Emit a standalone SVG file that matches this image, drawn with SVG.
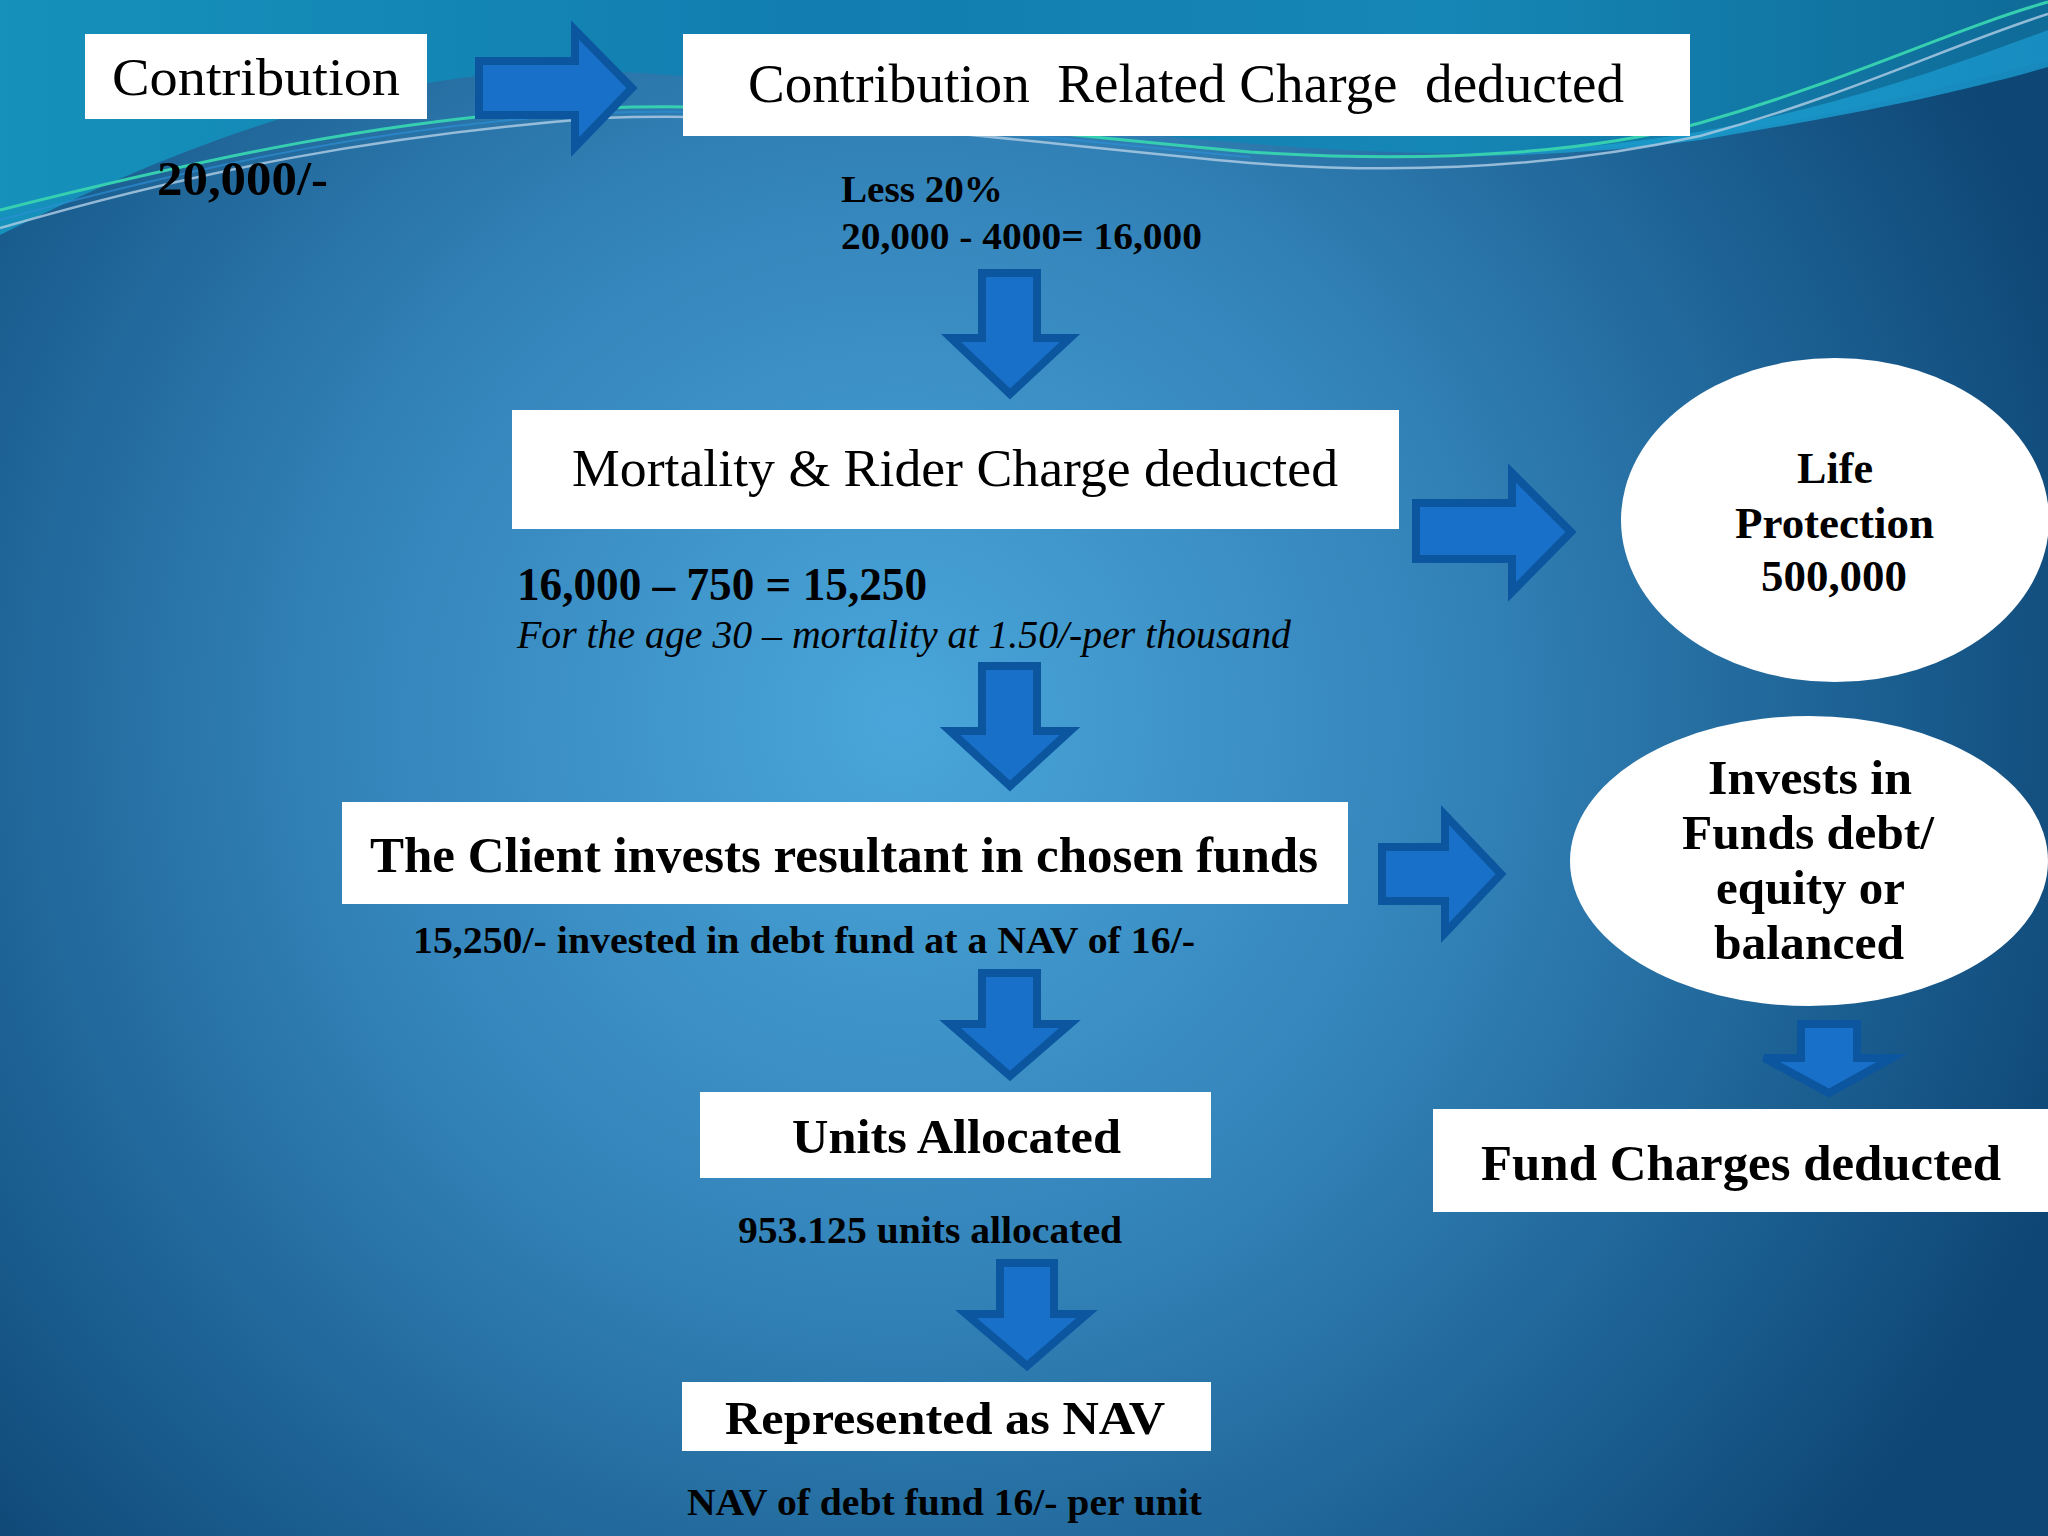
<svg xmlns="http://www.w3.org/2000/svg" width="2048" height="1536" viewBox="0 0 2048 1536">
<defs>
<radialGradient id="bg" cx="900" cy="720" r="1250" gradientUnits="userSpaceOnUse">
<stop offset="0" stop-color="#4aa6da"/>
<stop offset="0.45" stop-color="#3383b9"/>
<stop offset="0.8" stop-color="#1a5d8f"/>
<stop offset="1" stop-color="#0e4675"/>
</radialGradient>
<linearGradient id="teal" x1="0" y1="0" x2="2048" y2="0" gradientUnits="userSpaceOnUse">
<stop offset="0" stop-color="#1591bb"/>
<stop offset="0.4" stop-color="#127db0"/>
<stop offset="0.7" stop-color="#1587b6"/>
<stop offset="1" stop-color="#0f6b98"/>
</linearGradient>
<linearGradient id="cyanband" x1="1200" y1="0" x2="2048" y2="0" gradientUnits="userSpaceOnUse">
<stop offset="0" stop-color="#1aa0cc" stop-opacity="0.2"/>
<stop offset="0.5" stop-color="#1a9ccc" stop-opacity="0.9"/>
<stop offset="1" stop-color="#1890c4" stop-opacity="0.9"/>
</linearGradient>
<style>
.box { fill:#ffffff; }
.ell { fill:#ffffff; }
.arr { fill:#1870c8; stroke:#0c56a0; stroke-width:8; stroke-linejoin:miter; }
.t { font-family:"Liberation Serif", "Times New Roman", serif; fill:#000000; }
.reg { font-weight:normal; }
.bold { font-weight:bold; }
.ital { font-style:italic; }
.mid { text-anchor:middle; }
</style>
</defs>

<!-- background -->
<rect x="0" y="0" width="2048" height="1536" fill="url(#bg)"/>
<path d="M0,0 H2048 V60 C1900,100 1750,135 1600,148 C1450,160 1300,150 1100,130 C900,110 700,62 520,72 C330,85 150,160 0,235 Z" fill="url(#teal)"/>
<path d="M1200,150 C1450,165 1650,150 1800,110 C1900,85 1980,55 2048,30 V67 C1950,95 1850,115 1700,140 C1550,160 1400,160 1200,150 Z" fill="url(#cyanband)"/>
<path d="M0,210 C200,160 400,115 600,108 C800,100 1000,130 1250,152 C1450,165 1600,150 1700,123 C1850,80 1950,30 2048,2" fill="none" stroke="#36d0b0" stroke-width="3"/>
<path d="M0,228 C200,170 380,135 600,118 C800,110 1000,140 1250,163 C1450,178 1600,158 1700,136 C1850,95 1950,45 2048,14" fill="none" stroke="#a9c9e2" stroke-width="2.5" stroke-opacity="0.85"/>
<path d="M0,220 C200,165 390,125 600,113 C800,105 1000,135 1250,157" fill="none" stroke="#2c8fd4" stroke-width="2" stroke-opacity="0.7"/>

<!-- connectors -->
<g id="connectors">
<path class="arr" d="M479,61 H575 V30 L632,88 L575,147 V115 H479 Z"/>
<path class="arr" d="M982,273 H1037 V338 H1070 L1010,394 L951,338 H982 Z"/>
<path class="arr" d="M1416,503 H1512 V473 L1571,532 L1512,592 V559 H1416 Z"/>
<path class="arr" d="M982,666 H1037 V731 H1070 L1010,786 L950,731 H982 Z"/>
<path class="arr" d="M1382,847 H1445 V815 L1501,874 L1445,933 V901 H1382 Z"/>
<path class="arr" d="M982,973 H1037 V1024 H1070 L1010,1076 L950,1024 H982 Z"/>
<path class="arr" d="M1000,1263 H1054 V1314 H1087 L1027,1366 L966,1314 H1000 Z"/>
<path class="arr" d="M1801,1024 H1857 V1058 H1892 L1829,1093 L1764,1058 H1801 Z"/>
</g>

<!-- nodes -->
<g id="contribution">
<rect class="box" x="85" y="34" width="342" height="85"/>
<text class="t reg" x="112" y="95" font-size="53" textLength="288" lengthAdjust="spacingAndGlyphs">Contribution</text>
</g>
<g id="contribution-amount">
<text class="t bold" x="157" y="195" font-size="48" textLength="171" lengthAdjust="spacingAndGlyphs">20,000/-</text>
</g>
<g id="related-charge">
<rect class="box" x="683" y="34" width="1007" height="102"/>
<text class="t reg" x="748" y="102" font-size="54" textLength="876" lengthAdjust="spacingAndGlyphs" xml:space="preserve">Contribution  Related Charge  deducted</text>
</g>
<g id="related-charge-calc">
<text class="t bold" x="841" y="202" font-size="38" textLength="162" lengthAdjust="spacingAndGlyphs">Less 20%</text>
<text class="t bold" x="841" y="249" font-size="38" textLength="361" lengthAdjust="spacingAndGlyphs">20,000 - 4000= 16,000</text>
</g>
<g id="mortality">
<rect class="box" x="512" y="410" width="887" height="119"/>
<text class="t reg" x="572" y="486" font-size="52" textLength="766" lengthAdjust="spacingAndGlyphs">Mortality &amp; Rider Charge deducted</text>
</g>
<g id="mortality-calc">
<text class="t bold" x="517" y="600" font-size="46" textLength="410" lengthAdjust="spacingAndGlyphs">16,000 – 750 = 15,250</text>
<text class="t ital" x="517" y="648" font-size="40" textLength="774" lengthAdjust="spacingAndGlyphs">For the age 30 – mortality at 1.50/-per thousand</text>
</g>
<g id="life-protection">
<ellipse class="ell" cx="1835" cy="520" rx="214" ry="162"/>
<text class="t bold" x="1797" y="483" font-size="44" textLength="76" lengthAdjust="spacingAndGlyphs">Life</text>
<text class="t bold" x="1735" y="538" font-size="44" textLength="199" lengthAdjust="spacingAndGlyphs">Protection</text>
<text class="t bold" x="1761" y="591" font-size="44" textLength="146" lengthAdjust="spacingAndGlyphs">500,000</text>
</g>
<g id="client-invests">
<rect class="box" x="342" y="802" width="1006" height="102"/>
<text class="t bold" x="370" y="872" font-size="51" textLength="948" lengthAdjust="spacingAndGlyphs">The Client invests resultant in chosen funds</text>
</g>
<g id="client-invests-calc">
<text class="t bold" x="413" y="953" font-size="38" textLength="782" lengthAdjust="spacingAndGlyphs">15,250/- invested in debt fund at a NAV of 16/-</text>
</g>
<g id="invests-funds">
<ellipse class="ell" cx="1809" cy="861" rx="239" ry="145"/>
<text class="t bold" x="1708" y="794" font-size="48" textLength="204" lengthAdjust="spacingAndGlyphs">Invests in</text>
<text class="t bold" x="1682" y="849" font-size="48" textLength="252" lengthAdjust="spacingAndGlyphs">Funds debt/</text>
<text class="t bold" x="1716" y="904" font-size="48" textLength="189" lengthAdjust="spacingAndGlyphs">equity or</text>
<text class="t bold" x="1714" y="959" font-size="48" textLength="190" lengthAdjust="spacingAndGlyphs">balanced</text>
</g>
<g id="fund-charges">
<rect class="box" x="1433" y="1109" width="615" height="103"/>
<text class="t bold" x="1481" y="1180" font-size="50" textLength="520" lengthAdjust="spacingAndGlyphs">Fund Charges deducted</text>
</g>
<g id="units-allocated">
<rect class="box" x="700" y="1092" width="511" height="86"/>
<text class="t bold" x="792" y="1153" font-size="48" textLength="329" lengthAdjust="spacingAndGlyphs">Units Allocated</text>
</g>
<g id="units-allocated-calc">
<text class="t bold" x="738" y="1243" font-size="38" textLength="384" lengthAdjust="spacingAndGlyphs">953.125 units allocated</text>
</g>
<g id="represented-nav">
<rect class="box" x="682" y="1382" width="529" height="69"/>
<text class="t bold" x="725" y="1434" font-size="47" textLength="440" lengthAdjust="spacingAndGlyphs">Represented as NAV</text>
</g>
<g id="represented-nav-calc">
<text class="t bold" x="687" y="1515" font-size="38" textLength="515" lengthAdjust="spacingAndGlyphs">NAV of debt fund 16/- per unit</text>
</g>
</svg>
